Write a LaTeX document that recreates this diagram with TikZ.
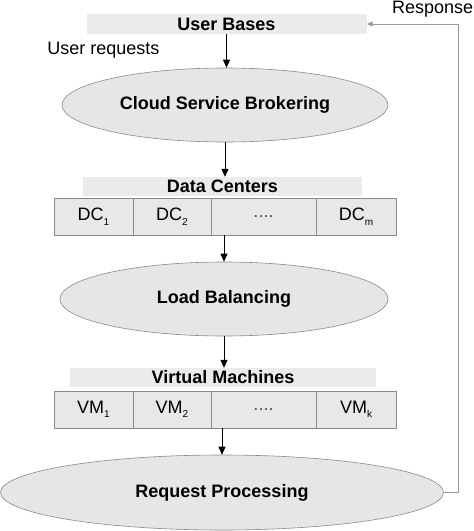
\documentclass[tikz,border=0pt]{standalone}
\usepackage{fontspec}
\setmainfont{Liberation Sans}
\usetikzlibrary{arrows.meta,shapes.geometric}
\definecolor{hdrfill}{HTML}{EBEBEB}
\definecolor{cellfill}{HTML}{E8E8E8}
\definecolor{ovalfill}{HTML}{E6E6E6}
\definecolor{lineg}{HTML}{8A8A8A}
\definecolor{respg}{HTML}{9A9A9A}
\newcommand{\lowsub}[1]{\raisebox{-4.5pt}{\fontsize{10}{10}\selectfont #1}}
\begin{document}
\begin{tikzpicture}[x=1pt,y=-1pt,
  every node/.style={font=\fontsize{18}{20}\selectfont},
  header/.style={fill=hdrfill, inner sep=0pt, minimum height=20pt, font=\fontsize{18}{20}\selectfont\bfseries},
  cell/.style={draw=lineg, fill=cellfill, inner sep=0pt, minimum height=37pt, line width=0.6pt},
  oval/.style={ellipse, draw=lineg, fill=ovalfill, inner sep=0pt, line width=0.6pt, font=\fontsize{18}{20}\selectfont\bfseries},
  arr/.style={-{Triangle[length=8pt,width=7pt]}, line width=0.8pt},
  resp/.style={-{Triangle[length=6pt,width=5pt]}, draw=respg, line width=1pt},
  plain/.style={inner sep=0pt}
]
\useasboundingbox (0,0) rectangle (474,531);

\node[header, minimum width=280pt] (ub) at (226.5,24) {User Bases};
\node[plain] (ureq) at (103.5,50) {User requests};
\node[plain, anchor=base west] (resplabel) at (392,13) {Response};

\node[oval, minimum width=326pt, minimum height=74pt] (csb) at (225,105) {Cloud Service Brokering};

\node[header, minimum width=279pt, minimum height=19pt] (dch) at (222.5,186.5) {Data Centers};
\node[cell, minimum width=79pt] (dc1) at (93.5,216.5) {DC\lowsub{1}};
\node[cell, minimum width=78pt] (dc2) at (172,216.5) {DC\lowsub{2}};
\node[cell, minimum width=105pt] (dc3) at (263.5,216.5) {\textcolor{black!70}{....}};
\node[cell, minimum width=80pt] (dc4) at (356,216.5) {DC\lowsub{m}};

\node[oval, minimum width=328pt, minimum height=74pt] (lb) at (224,299) {Load Balancing};

\node[header, minimum width=306pt, minimum height=19pt] (vmh) at (223,377.5) {Virtual Machines};
\node[cell, minimum width=79pt] (vm1) at (93.5,409.5) {VM\lowsub{1}};
\node[cell, minimum width=78pt] (vm2) at (172,409.5) {VM\lowsub{2}};
\node[cell, minimum width=105pt] (vm3) at (263.5,409.5) {\textcolor{black!70}{....}};
\node[cell, minimum width=80pt] (vm4) at (356,409.5) {VM\lowsub{k}};

\node[oval, minimum width=443pt, minimum height=75pt] (rp) at (222,492.5) {Request Processing};

\coordinate (rtop) at (458,24);

\draw[arr] (ub.south) -- (ub.south |- csb.north);
\draw[arr] (csb.south) -- (csb.south |- dch.north);
\draw[arr] (lb.north |- dc3.south) -- (lb.north);
\draw[arr] (lb.south) -- (lb.south |- vmh.north);
\draw[arr] (rp.north |- vm3.south) -- (rp.north);
\draw[resp] (rp.east) -| (rtop) -- (ub.east);
\end{tikzpicture}
\end{document}
